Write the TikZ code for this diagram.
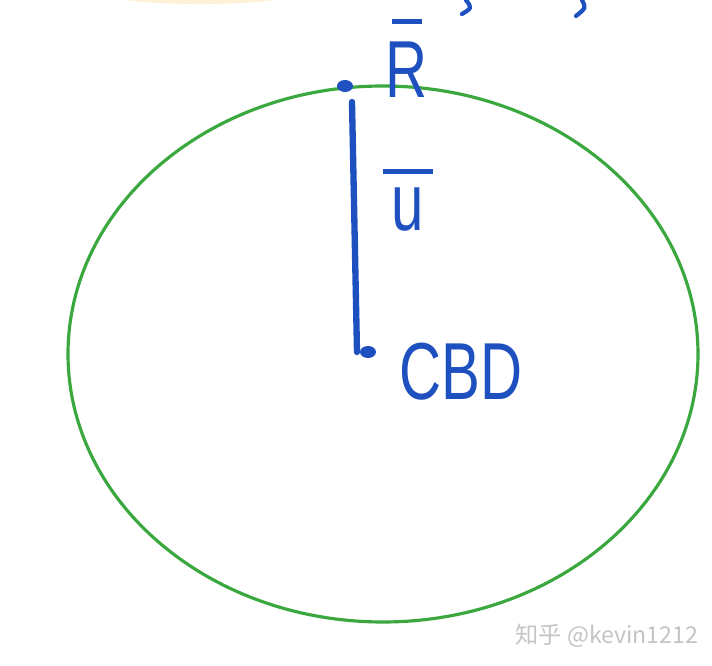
\documentclass[tikz,border=0pt]{standalone}
\usepackage{fontspec}
\setmainfont{Liberation Sans}
\newfontfamily\cjk{Noto Sans CJK SC}
\definecolor{pen}{RGB}{30,80,192}
\definecolor{ring}{RGB}{58,168,62}
\definecolor{cream}{RGB}{253,241,214}
\definecolor{mark}{RGB}{196,196,196}
\tikzset{
  hand/.style={text=pen, font=\fontsize{23}{23}\selectfont, inner sep=0pt, align=center, xscale=0.72, transform shape},
}
\begin{document}
\begin{tikzpicture}[scale=1]
\useasboundingbox (0,0) rectangle (7.12,6.66);
\coordinate (O) at (3.83,3.12);
\coordinate (top) at (3.45,5.80);
\coordinate (cbd) at (3.68,3.14);
\coordinate (start) at (3.52,5.64);
\coordinate (end) at (3.57,3.14);

\fill[cream] (2.0,6.70) ellipse (0.85 and 0.08);
\draw[pen, line width=1.2pt, line cap=round] (4.66,6.66) .. controls (4.72,6.58) .. (4.62,6.52);
\draw[pen, line width=1.2pt, line cap=round] (5.82,6.66) .. controls (5.86,6.58) .. (5.76,6.50);

\draw[ring, line width=0.9pt] (O) ellipse (3.15 and 2.68);

\draw[pen, line width=1.8pt, line cap=round] (start) -- (end);
\fill[pen] (top) ellipse (0.08 and 0.06);
\fill[pen] (cbd) ellipse (0.08 and 0.06);

\node[hand] (R) at (4.07,6.08) {\rule{0.5em}{0.065em}\\[-2.3pt]R};
\node[hand] (U) at (4.08,4.66) {\rule{0.86em}{0.065em}\\[-7pt]u};
\node[hand] (C) at (4.61,2.94) {CBD};
% \node[above right] at (O) {O};
\node[text=mark, font=\cjk\fontsize{6.6}{6.6}\selectfont] (wm) at (6.07,0.30) {知乎 @kevin1212};
\end{tikzpicture}
\end{document}
